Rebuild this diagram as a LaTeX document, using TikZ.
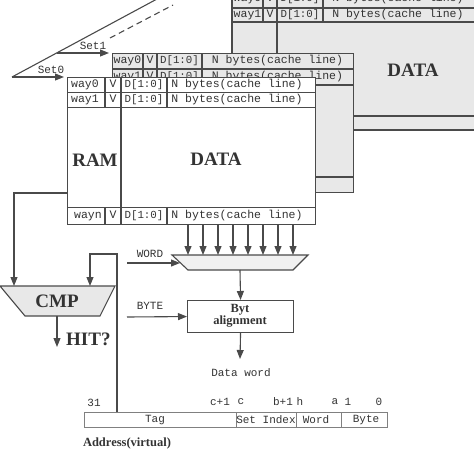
\documentclass[tikz,border=0pt]{standalone}
\usepackage{fontspec}
\setmainfont{Liberation Serif}
\newfontfamily\monof{Liberation Mono}
\usetikzlibrary{arrows.meta,calc}
\definecolor{lc}{HTML}{4A4A4A}
\definecolor{tc}{HTML}{333333}
\definecolor{gfill}{HTML}{E8E8E8}
\tikzset{
  ln/.style={draw=lc, line width=1.1pt},
  thin/.style={draw=lc!70, line width=0.8pt},
  arr/.style={ln, -{Triangle[length=9pt,width=7pt]}},
  tcell/.style={font=\monof\fontsize{11.5}{12}\selectfont, text=tc, inner sep=0pt, text height=7pt, text depth=2pt},
  dcell/.style={tcell, font=\monof\fontsize{10.8}{12}\selectfont},
  bigt/.style={font=\bfseries\fontsize{19}{22}\selectfont, text=tc, inner sep=0pt},
  midt/.style={font=\bfseries\fontsize{12.5}{14}\selectfont, text=tc, inner sep=0pt, align=center},
  lbl/.style={font=\monof\fontsize{11}{12}\selectfont, text=tc, inner sep=0pt},
}
\begin{document}
\begin{tikzpicture}[x=1pt,y=-1pt]
\useasboundingbox (0,0) rectangle (474,474);
\clip (0,0) rectangle (474,474);

% ---------- back table (Set n) ----------
\draw[ln, fill=gfill] (232,-10) rectangle (480,130);
\foreach \yy in {8,22,116} \draw[ln] (232,\yy) -- (480,\yy);
\foreach \xx in {263,323} {\draw[ln] (\xx,-10) -- (\xx,22); \draw[ln] (\xx,116) -- (\xx,130);}
\draw[ln] (277,-10) -- (277,130);
\node[tcell] (b0w) at (247.5,-1) {way0};
\node[tcell] (b0v) at (270,-1) {V};
\node[dcell] (b0d) at (300,-1) {D[1:0]};
\node[tcell] (b0n) at (398,-1) {N bytes(cache line)};
\node[tcell] (b1w) at (247.5,15) {way1};
\node[tcell] (b1v) at (270,15) {V};
\node[dcell] (b1d) at (300,15) {D[1:0]};
\node[tcell] (b1n) at (398,15) {N bytes(cache line)};
\node[bigt] (bdata) at (413,70) {DATA};

% ---------- middle table (Set1) ----------
\node[ln, fill=gfill, minimum width=241pt, minimum height=139pt, inner sep=0pt, anchor=north west] (mid) at (112,53) {};
\foreach \yy in {69,85,177} \draw[ln] (112,\yy) -- (353,\yy);
\foreach \xx in {143,202} {\draw[ln] (\xx,53) -- (\xx,85); \draw[ln] (\xx,177) -- (\xx,192);}
\draw[ln] (157,53) -- (157,192);
\node[tcell] (m0w) at (127.5,61) {way0};
\node[tcell] (m0v) at (150,61) {V};
\node[dcell] (m0d) at (179.5,61) {D[1:0]};
\node[tcell] (m0n) at (277.5,61) {N bytes(cache line)};
\node[tcell] (m1w) at (127.5,77) {way1};
\node[tcell] (m1v) at (150,77) {V};
\node[dcell] (m1d) at (179.5,77) {D[1:0]};
\node[tcell] (m1n) at (277.5,77) {N bytes(cache line)};

% ---------- front table (Set0) ----------
\node[ln, fill=white, minimum width=248pt, minimum height=147pt, inner sep=0pt, anchor=north west] (front) at (67,77) {};
\foreach \yy in {92.5,107.5,207.5} \draw[ln] (67,\yy) -- (315,\yy);
\foreach \xx in {105,167} {\draw[ln] (\xx,77) -- (\xx,107.5); \draw[ln] (\xx,207.5) -- (\xx,224);}
\draw[ln] (121,77) -- (121,224);
\node[tcell] (f0w) at (85,85) {way0};
\node[tcell] (f0v) at (113,85) {V};
\node[dcell] (f0d) at (144,85) {D[1:0]};
\node[tcell] (f0n) at (237,85) {N bytes(cache line)};
\node[tcell] (f1w) at (85,100) {way1};
\node[tcell] (f1v) at (113,100) {V};
\node[dcell] (f1d) at (144,100) {D[1:0]};
\node[tcell] (f1n) at (237,100) {N bytes(cache line)};
\node[tcell] (fnw) at (88,216) {wayn};
\node[tcell] (fnv) at (113,216) {V};
\node[dcell] (fnd) at (144,216) {D[1:0]};
\node[tcell] (fnn) at (237,216) {N bytes(cache line)};
\node[bigt] (ram) at (95,160) {RAM};
\node[bigt] (fdata) at (216,159) {DATA};

% ---------- set selection lines ----------
\coordinate (apex) at (12,77);
\coordinate (diagtop) at (157,-1);
\coordinate (s1) at (56.6,53);
\coordinate (s0end) at (64,77);
\coordinate (s1end) at (109,53);
\draw[ln] (apex) -- (diagtop);
\draw[arr] (apex) -- (s0end);
\draw[arr] (s1) -- (s1end);
\draw[ln, dash pattern=on 6pt off 4pt] (110,38) -- (173,5);
\node[lbl] (set0) at (51,70) {Set0};
\node[lbl] (set1) at (93,46) {Set1};

% ---------- CMP ----------
\draw[ln, fill=gfill] (0,286) coordinate (ctl) -- (115,286) coordinate (ctr) -- (100,316) coordinate (cbr) -- (25,316) coordinate (cbl) -- cycle;
\node[bigt] (cmp) at (57,301) {CMP};
\coordinate (tagout) at (117,413);
\coordinate (tagup) at (117,254);
\coordinate (tagleft) at (90,254);
\coordinate (cmpin2) at (90,286);
\coordinate (ramout) at (67,193);
\coordinate (ramleft) at (14,193);
\coordinate (cmpin1) at (14,286);
\draw[arr] (ramout) -- (ramleft) -- (cmpin1);
\draw[arr] (tagout) -- (tagup) -- (tagleft) -- (cmpin2);
\coordinate (cmpout) at (57,316);
\coordinate (hitend) at (57,347);
\draw[arr] (cmpout) -- (hitend);
\node[bigt, anchor=west] (hit) at (66,339) {HIT?};

% ---------- MUX ----------
\draw[ln, fill=gfill!60] (172,255) coordinate (mtl) -- (308,255) coordinate (mtr) -- (293,270) coordinate (mbr) -- (188,270) coordinate (mbl) -- cycle;
\coordinate (mux) at (240,262.5);
\foreach \i in {0,...,7} {
  \coordinate (dsrc\i) at ({188+15*\i},224);
  \coordinate (ddst\i) at ({188+15*\i},255);
  \draw[arr] (dsrc\i) -- (ddst\i);
}
\coordinate (wordin) at (127,263);
\coordinate (wordtip) at (180,263);
\draw[arr] (wordin) -- (wordtip);
\node[lbl] (word) at (150,254) {WORD};

% ---------- Byte alignment ----------
\node[ln, fill=white, minimum width=106pt, minimum height=32pt, inner sep=0pt, anchor=north west] (align) at (187,300) {};
\node[midt] (aligntxt) at (240,316) {Byt\\[-2pt]alignment};
\draw[arr] (240,270) -- (align.north);
\coordinate (bytein) at (127,317);
\draw[arr] (bytein) -- (align.west);
\node[lbl] (byte) at (150,306) {BYTE};
\node[lbl] (dword) at (241,373) {Data word};
\coordinate (dwtip) at (240,359);
\draw[arr] (align.south) -- (dwtip);

% ---------- address ----------
\draw[thin] (84,412) rectangle (387,427);
\foreach \xx in {236,296,341} \draw[thin] (\xx,412) -- (\xx,427);
\node[lbl] (tag) at (155,420) {Tag};
\node[lbl] (setidx) at (266,420) {Set Index};
\node[lbl] (wordf) at (316,420) {Word};
\node[lbl] (bytef) at (366,420) {Byte};
\node[lbl] (n31) at (94,403) {31};
\node[lbl] (nc1) at (220,402) {c+1};
\node[lbl] (nc) at (241,402) {c};
\node[lbl] (nb1) at (283,402) {b+1};
\node[lbl] (nh) at (300,402) {h};
\node[lbl] (na) at (335,402) {a};
\node[lbl] (n1) at (348,402) {1};
\node[lbl] (n0) at (379,402) {0};
\node[font=\bfseries\fontsize{12.5}{14}\selectfont, text=tc, inner sep=0pt] (addr) at (127,443) {Address(virtual)};
\end{tikzpicture}
\end{document}
